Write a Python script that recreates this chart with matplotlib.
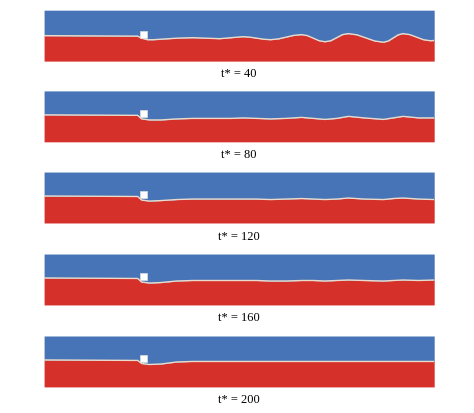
import matplotlib
matplotlib.use('Agg')
import matplotlib.pyplot as plt
from matplotlib.patches import Rectangle

# interface height (fraction of channel depth) read at positions along the channel
times = [40, 80, 120, 160, 200]
xs_40 = [0.0, 0.24, 0.25, 0.265, 0.28, 0.30, 0.34, 0.38, 0.415, 0.45, 0.48, 0.51,
         0.5275, 0.545, 0.5625, 0.58, 0.60, 0.62, 0.64, 0.66, 0.675, 0.69, 0.705, 0.72,
         0.735, 0.75, 0.765, 0.78, 0.8025, 0.825, 0.8475, 0.87, 0.8825, 0.895, 0.9075,
         0.92, 0.9375, 0.955, 0.9725, 0.99, 1.0]
h_40 = [0.50, 0.49, 0.45, 0.42, 0.42, 0.43, 0.45, 0.46, 0.45, 0.44, 0.46, 0.48,
        0.47, 0.45, 0.43, 0.42, 0.435, 0.47, 0.505, 0.52, 0.50, 0.45, 0.40, 0.38,
        0.40, 0.46, 0.52, 0.54, 0.515, 0.455, 0.395, 0.37, 0.395, 0.455, 0.515,
        0.54, 0.52, 0.47, 0.42, 0.40, 0.405]
xs = [0.0, 0.24, 0.25, 0.27, 0.30, 0.34, 0.38, 0.42, 0.45, 0.48, 0.51, 0.545, 0.58,
      0.62, 0.66, 0.69, 0.72, 0.75, 0.78, 0.82, 0.87, 0.895, 0.92, 0.96, 1.0]
profiles = {
    40:  (xs_40, h_40),
    80:  (xs, [0.53, 0.52, 0.45, 0.43, 0.43, 0.45, 0.46, 0.46, 0.46, 0.46, 0.47, 0.46, 0.45,
               0.46, 0.48, 0.46, 0.44, 0.46, 0.50, 0.47, 0.44, 0.47, 0.50, 0.47, 0.47]),
    120: (xs, [0.53, 0.52, 0.45, 0.43, 0.44, 0.46, 0.47, 0.47, 0.47, 0.47, 0.47, 0.47, 0.46,
               0.47, 0.48, 0.47, 0.46, 0.47, 0.49, 0.47, 0.46, 0.48, 0.49, 0.47, 0.46]),
    160: (xs, [0.53, 0.52, 0.45, 0.43, 0.44, 0.47, 0.48, 0.48, 0.48, 0.48, 0.48, 0.48, 0.47,
               0.47, 0.48, 0.48, 0.47, 0.48, 0.49, 0.48, 0.47, 0.48, 0.49, 0.48, 0.49]),
    200: (xs, [0.53, 0.52, 0.46, 0.44, 0.45, 0.49, 0.50, 0.50, 0.50, 0.50, 0.50, 0.50, 0.50,
               0.50, 0.50, 0.50, 0.50, 0.50, 0.50, 0.50, 0.50, 0.50, 0.50, 0.50, 0.50]),
}
obstacle_x = 0.245
obstacle_w = 0.02
obstacle_h = 0.14

BLUE = '#4674b6'
RED = '#d6302a'

fig = plt.figure(figsize=(4.74, 4.14), dpi=100)
bottoms = [0.850, 0.655, 0.459, 0.261, 0.063]
label_y = [0.821, 0.626, 0.428, 0.232, 0.034]

for t, b, ly in zip(times, bottoms, label_y):
    ax = fig.add_axes([0.093, b, 0.823, 0.123])
    x, h = profiles[t]
    ax.fill_between(x, 0, h, color=RED, lw=0)
    ax.fill_between(x, h, 1, color=BLUE, lw=0)
    ax.plot(x, h, color='#eadbcb', lw=1.0)
    ax.add_patch(Rectangle((obstacle_x, h[1] - 0.03), obstacle_w, obstacle_h,
                           facecolor='white', edgecolor='#dddddd', lw=0.5, zorder=3))
    ax.set_xlim(0, 1)
    ax.set_ylim(0, 1)
    ax.axis('off')
    fig.text(0.504, ly, f't* = {t}', ha='center', va='center',
             family='Liberation Serif', fontsize=9)

fig.savefig('out.png', dpi=100)
